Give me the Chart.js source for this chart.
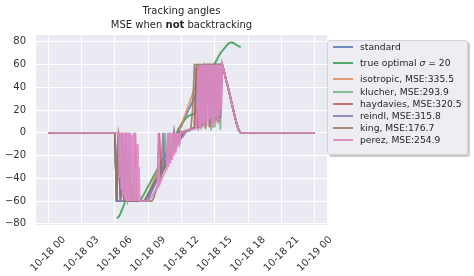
<!DOCTYPE html>
<html>
<head>
<meta charset="utf-8">
<script src="https://cdn.jsdelivr.net/npm/chart.js@4.4.1/dist/chart.umd.min.js"></script>
<style>
  body { margin: 0; background: #fff; }
  #wrap { position: relative; width: 474px; height: 276px; font-family: "DejaVu Sans", sans-serif; color: #262626; }
  #title { position: absolute; left: 0; top: 4px; width: 363px; text-align: center; font-size: 10px; line-height: 14px; }
  #legend { position: absolute; left: 327px; top: 40px; width: 141px; height: 115px; box-sizing: border-box;
            background: rgba(236,236,242,0.92); border: 1px solid #d4d4d8; border-radius: 3px;
            box-shadow: 2px 2px 1px rgba(0,0,0,0.22); }
  .row { position: absolute; left: 0; height: 12px; font-size: 9.2px; line-height: 12px; white-space: nowrap; }
  .row span.h { position: absolute; left: 5px; top: 5px; width: 20px; height: 2px; }
  .row span.t { position: absolute; left: 32px; top: 0; }
</style>
</head>
<body>
<div id="wrap">
  <canvas id="myChart" width="474" height="276"></canvas>
  <div id="title">Tracking angles<br>MSE when <b>not</b> backtracking</div>
  <div id="legend"></div>
</div>
<script>
// minutes after midnight on 10-18
const times = [0,
  360, 370, 380, 390, 400, 410, 420, 430, 440, 450,
  460, 470, 480, 490, 500, 510, 520, 530, 540, 550,
  560, 570, 580, 590, 600, 610, 620, 630, 640, 650,
  660, 670, 680, 690, 700, 710, 720, 730, 740, 750,
  760, 770, 780, 790, 800, 810, 820, 830, 840, 850,
  860, 870, 880, 890, 900, 910, 920, 930, 940, 950,
  960, 970, 980, 990, 1000, 1010, 1020, 1030, 1040, 1050,
  1440];

const standard = [0,
  0, -60, -60, -60, -60, -60, -60, -60, -60, -60,
  -60, -60, -60, -60, -60, -60, -60, -60, -59, -55,
  -51, -48, -44, -41, -37, -33, -30, -26, -23, -19,
  -15, -12, -8, -5, -1, 3, 6, 10, 13, 17,
  21, 24, 28, 31, 35, 38, 42, 46, 49, 53,
  56, 60, 60, 60, 60, 60, 60, 60, 60, 54,
  47, 41, 34, 27, 20, 13, 7, 2, 0, 0,
  0];

const trueOptimal = [null,
  null, -75, -74, -71, -67, -63, -58, -53, -49, -47,
  -49, -54, -59, -60, -59, -56, -53, -50, -47, -44,
  -41, -38, -35, -32, -29, -26, -23, -20, -17, -14,
  -11, -8, -5, -2, 2, 5, 8, 10, 12, 14,
  15, 16, 16, 17, 19, 23, 27, 31, 35, 39,
  43, 47, 52, 56, 61, 64, 67, 70, 72, 74,
  76, 78, 79, 79.5, 79, 78, 77, 76, 75.5, null,
  null];

const isotropic = [0,
  0, -60, 0, -60, -50, -60, 0, -60, -55, -60,
  -60, -60, -60, -60, -60, -60, -60, -58, -54, -50,
  -46, -42, -38, -35, -32, -29, -26, -23, -21, -19,
  -16, -13, -10, -6, -2, 3, 7, 12, 16, 21,
  25, 30, 34, 39, 43, 48, 52, 57, 60, 10,
  60, 60, 5, 60, 60, 12, 60, 60, 60, 54,
  47, 41, 34, 27, 20, 13, 7, 2, 0, 0,
  0];

const klucher = [0,
  0, -60, 0, -60, 0, -60, -30, -60, 0, -60,
  -60, -60, -60, -60, -60, -60, -59, -56, -53, -50,
  -47, -44, -41, -38, -35, -32, -29, 0, -27, -24,
  -20, 0, -15, -12, 0, -6, 0, 1, 2, 2,
  3, 3, 4, 5, 60, 2, 60, 4, 60, 3,
  60, 60, 2, 60, 5, 60, 60, 3, 60, 54,
  47, 41, 34, 27, 20, 13, 7, 2, 0, 0,
  0];

const haydavies = [0,
  0, -60, 0, -58, 0, -60, 0, -60, -40, -60,
  -60, 0, -60, -60, -60, -60, -60, -57, -54, -51,
  -48, -45, -42, -39, 0, -36, -33, -30, -27, 0,
  -23, -19, 0, -14, -9, 0, -4, 0, 1, 2,
  2, 3, 4, 4, 58, 4, 60, 6, 60, 5,
  60, 5, 60, 8, 60, 60, 9, 60, 60, 54,
  47, 41, 34, 27, 20, 13, 7, 2, 0, 0,
  0];

const reindl = [0,
  0, -60, 0, -60, 0, -55, 0, -60, 0, -60,
  -60, -60, -60, -60, -60, -60, -60, -58, -55, -52,
  -49, -46, -43, -40, -37, -34, 0, -31, -28, -25,
  -21, -17, 0, -13, 0, -8, 0, -3, 0, 2,
  2, 3, 3, 4, 5, 60, 4, 60, 6, 60,
  60, 8, 60, 12, 60, 10, 60, 13, 60, 54,
  47, 41, 34, 27, 20, 13, 7, 2, 0, 0,
  0];

const king = [0,
  0, -60, 0, -7, -14, -21, -28, -35, -42, -50,
  -57, -60, -60, -60, -60, -60, -60, -60, -60, -60,
  -60, -57, -52, -47, -42, -38, -33, -29, -25, -21,
  -17, -13, -9, -5, 0, 0, 1, 1, 2, 2,
  2, 3, 20, 60, 60, 60, 60, 60, 60, 60,
  60, 60, 60, 60, 60, 60, 60, 60, 60, 54,
  47, 41, 34, 27, 20, 13, 7, 2, 0, 0,
  0];

const perezTimes = [0,
  360, 370, 380, 385, 390, 395, 400, 405, 410, 415,
  420, 425, 430, 435, 440, 445, 450, 455, 460, 465,
  470, 475, 480, 485, 490, 495, 500, 520, 540, 560,
  580, 590, 595, 600, 610, 620, 630, 640, 645, 650,
  655, 660, 665, 670, 675, 680, 685, 690, 695, 700,
  705, 710, 715, 720, 740, 760, 780, 800, 810, 815,
  820, 825, 830, 835, 840, 845, 850, 855, 860, 865,
  870, 875, 880, 885, 890, 895, 900, 905, 910, 915,
  920, 925, 930, 935, 940, 950, 960, 970, 980, 990,
  1000, 1010, 1020, 1030, 1040, 1050, 1440];

const perez = [0,
  0, 0, 0, -40, 0, -50, 0, -55, 0, -58,
  0, -60, 0, -60, 0, -60, -2, -60, 0, -60,
  0, -60, -10, -60, -30, -60, -60, -60, -60, -56,
  -50, -47, 0, -46, -42, -38, -35, -32, 0, -30,
  0, -27, 0, -24, 0, -20, 0, -16, 0, -12,
  0, -8, 0, 0, 2, 3, 3, 4, 58, 5,
  60, 3, 60, 8, 60, 4, 60, 10, 60, 6,
  60, 12, 60, 5, 60, 9, 60, 14, 60, 8,
  60, 15, 60, 20, 60, 54, 47, 41, 34, 27,
  20, 13, 7, 2, 0, 0, 0];

const xTicks = [0, 180, 360, 540, 720, 900, 1080, 1260, 1440];
const xTickLabels = ['10-18 00', '10-18 03', '10-18 06', '10-18 09', '10-18 12',
                     '10-18 15', '10-18 18', '10-18 21', '10-19 00'];
const yTicks = [-80, -60, -40, -20, 0, 20, 40, 60, 80];

const series = [
  { label: 'standard', x: times, data: standard, color: 'rgba(76,114,176,0.8)' },
  { label: 'true optimal <i>σ</i> = 20', x: times, data: trueOptimal, color: '#55a868', width: 2 },
  { label: 'isotropic, MSE:335.5', x: times, data: isotropic, color: 'rgba(221,132,82,0.8)' },
  { label: 'klucher, MSE:293.9', x: times, data: klucher, color: 'rgba(85,168,104,0.7)' },
  { label: 'haydavies, MSE:320.5', x: times, data: haydavies, color: 'rgba(196,78,82,0.8)' },
  { label: 'reindl, MSE:315.8', x: times, data: reindl, color: 'rgba(129,114,179,0.8)' },
  { label: 'king, MSE:176.7', x: times, data: king, color: 'rgba(147,120,96,0.85)' },
  { label: 'perez, MSE:254.9', x: perezTimes, data: perez, color: 'rgba(218,139,195,0.9)' }
];

const bgPlugin = {
  id: 'bg',
  beforeDraw(chart) {
    const a = chart.chartArea, ctx = chart.ctx;
    ctx.save();
    ctx.fillStyle = '#eaeaf2';
    ctx.fillRect(a.left, a.top, a.right - a.left, a.bottom - a.top);
    ctx.restore();
  }
};

// x tick labels rotated 45 deg around their centre, like matplotlib
const xLabelPlugin = {
  id: 'xlabels',
  afterDraw(chart) {
    const ctx = chart.ctx, sc = chart.scales.x;
    ctx.save();
    ctx.font = '10px "DejaVu Sans"';
    ctx.fillStyle = '#333333';
    ctx.textAlign = 'center';
    ctx.textBaseline = 'middle';
    xTicks.forEach((v, i) => {
      ctx.save();
      ctx.translate(sc.getPixelForValue(v), chart.chartArea.bottom + 29);
      ctx.rotate(-Math.PI / 4);
      ctx.fillText(xTickLabels[i], 0, 0);
      ctx.restore();
    });
    ctx.restore();
  }
};

new Chart('myChart', {
  type: 'line',
  data: {
    datasets: series.map((s, k) => ({
      label: s.label,
      data: s.x.map((t, i) => ({ x: t, y: s.data[i] })),
      borderColor: s.color,
      borderWidth: s.width || 1.8,
      pointRadius: 0,
      fill: false,
      tension: 0,
      order: series.length - k
    }))
  },
  options: {
    responsive: false,
    animation: false,
    layout: { padding: { top: 35, right: 147, left: 0, bottom: 0 } },
    plugins: { legend: { display: false }, title: { display: false }, tooltip: { enabled: false } },
    scales: {
      x: {
        type: 'linear',
        min: -66,
        max: 1506,
        afterBuildTicks: s => { s.ticks = xTicks.map(v => ({ value: v })); },
        afterFit: s => { s.height = 51; },
        grid: { color: '#ffffff', lineWidth: 1, drawTicks: false },
        border: { display: false },
        ticks: { display: false }
      },
      y: {
        min: -81,
        max: 86,
        afterBuildTicks: s => { s.ticks = yTicks.map(v => ({ value: v })); },
        afterFit: s => { s.width = 36; },
        grid: { color: '#ffffff', lineWidth: 1, drawTicks: false },
        border: { display: false },
        ticks: {
          padding: 10,
          color: '#333333',
          font: { family: 'DejaVu Sans', size: 10 },
          callback: v => String(v).replace('-', '\u2212')
        }
      }
    }
  },
  plugins: [bgPlugin, xLabelPlugin]
});

// legend
const rowY = [47, 63, 79, 91.5, 104, 116, 127.5, 139.5];
const legend = document.getElementById('legend');
series.forEach((s, k) => {
  const row = document.createElement('div');
  row.className = 'row';
  row.style.top = (rowY[k] - 40 - 7) + 'px';
  row.innerHTML = '<span class="h" style="background:' + s.color + '"></span>' +
                  '<span class="t">' + s.label + '</span>';
  legend.appendChild(row);
});
</script>
</body>
</html>
